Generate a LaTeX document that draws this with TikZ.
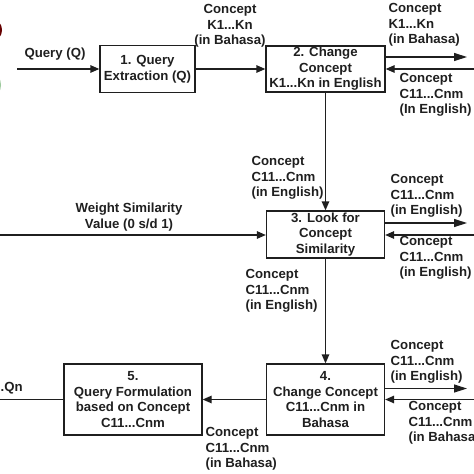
\documentclass[tikz,border=0pt]{standalone}
\usepackage{fontspec}
\setmainfont{Liberation Sans}
\usetikzlibrary{arrows.meta, positioning, calc}

\begin{document}
\begin{tikzpicture}[x=1pt, y=-1pt, line width=1.3pt, color={black!88},
        txt/.style={font=\fontsize{13.2}{15.6}\selectfont\bfseries},
        box/.style={txt, draw, inner sep=0pt, align=center},
        lbl/.style={txt, inner sep=0pt, align=left, anchor=west},
        flow/.style={-{Triangle[length=9pt,width=7.5pt]}},
        flowout/.style={-{Triangle[length=13pt,width=8pt]}}]
        \useasboundingbox (0,0) rectangle (474,474);

        % bits cut off at the left edge
        \fill[red!40!black] (-6,30) ellipse (8pt and 10pt);
        \fill[green!30!gray!60] (-7,85) ellipse (8pt and 11pt);

        % process boxes
        \node[box, minimum width=95pt, minimum height=47pt] (q1) at (147.5,69) {1. Query\\Extraction (Q)};
        \node[box, minimum width=119pt, minimum height=46pt] (q2) at (325.5,69) {2. Change\\Concept\\K1...Kn in English};
        \node[box, minimum width=118pt, minimum height=47pt] (q3) at (325.5,234.5) {3. Look for\\Concept\\Similarity};
        \node[box, minimum width=118pt, minimum height=71pt] (q4) at (325.5,399.5) {4.\\Change Concept\\C11...Cnm in\\Bahasa};
        \node[box, minimum width=138pt, minimum height=71pt] (q5) at (133,399.5) {5.\\Query Formulation\\based on Concept\\C11...Cnm};

        % free ends
        \coordinate (qin) at (17,69);
        \coordinate (wsv) at (-2,235);
        \coordinate (qout) at (-2,399.5);
        \coordinate (k2out) at (467,57);
        \coordinate (c2in) at (476,69);
        \coordinate (c3out) at (467,223);
        \coordinate (c3in) at (476,235);
        \coordinate (c4out) at (467,388.5);
        \coordinate (c4in) at (476,399.5);

        % connectors
        \draw[flow] (qin) -- (q1.west);
        \draw[flow] (q1.east) -- (q2.west);
        \draw[flowout] (q2.east |- k2out) -- (k2out);
        \draw[flow] (c2in) -- (q2.east |- c2in);
        \draw[flow] (q2.south) -- (q3.north);
        \draw[flow] (wsv) -- (q3.west |- wsv);
        \draw[flowout] (q3.east |- c3out) -- (c3out);
        \draw[flow] (c3in) -- (q3.east |- c3in);
        \draw[flow] (q3.south) -- (q4.north);
        \draw[flowout] (q4.east |- c4out) -- (c4out);
        \draw[flow] (c4in) -- (q4.east |- c4in);
        \draw[flow] (q4.west) -- (q5.east);
        \draw (q5.west) -- (qout);

        % labels
        \node[txt] (lq) at (55,54) {Query (Q)};
        \node[txt, align=center, inner sep=0pt] (l12) at (230,26) {Concept\\K1...Kn\\(in Bahasa)};
        \node[lbl] (l2o) at (388,25) {Concept\\K1...Kn\\(in Bahasa)};
        \node[lbl] (l2i) at (399,95) {Concept\\C11...Cnm\\(In English)};
        \node[lbl] (l23) at (251,178) {Concept\\C11...Cnm\\(in English)};
        \node[txt, align=center, inner sep=0pt] (lw) at (129,217) {Weight Similarity\\Value (0 s/d 1)};
        \node[lbl] (l3o) at (390,196) {Concept\\C11...Cnm\\(in English)};
        \node[lbl] (l3i) at (399,258) {Concept\\C11...Cnm\\(in English)};
        \node[lbl] (l34) at (245,291) {Concept\\C11...Cnm\\(in English)};
        \node[lbl] (l4o) at (390,362) {Concept\\C11...Cnm\\(in English)};
        \node[lbl] (l4i) at (408,423) {Concept\\C11...Cnm\\(in Bahasa)};
        \node[lbl] (l45) at (205,449) {Concept\\C11...Cnm\\(in Bahasa)};
        \node[lbl] (lqn) at (0,388) {.Qn};
\end{tikzpicture}
\end{document}
